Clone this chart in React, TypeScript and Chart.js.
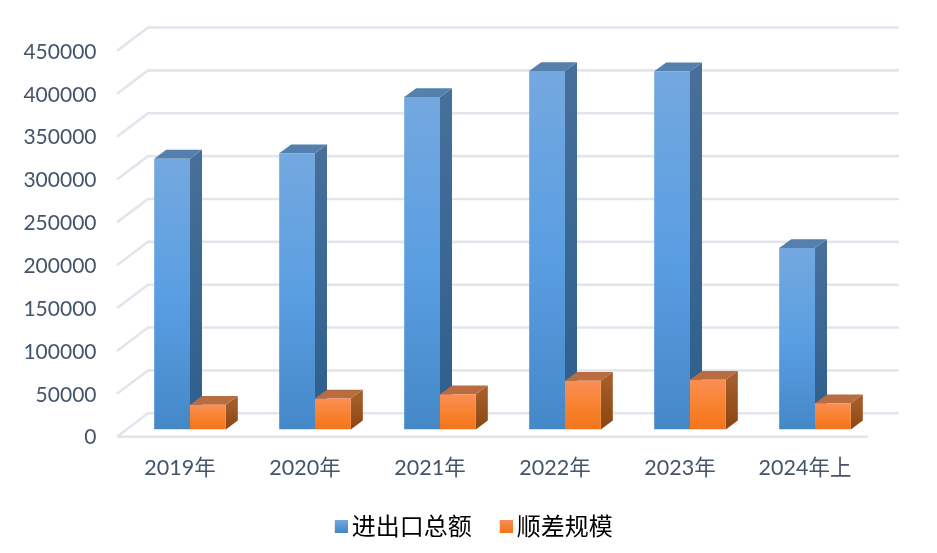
import React, { useEffect, useRef } from "react";
import { Chart, registerables } from "chart.js";

Chart.register(...registerables);

const categories = ["2019年", "2020年", "2021年", "2022年", "2023年", "2024年上"];
const totalTrade = [315800, 322000, 387600, 417900, 417700, 211600];
const surplus = [28800, 36100, 41000, 56700, 57900, 30500];
const yTicks = [0, 50000, 100000, 150000, 200000, 250000, 300000, 350000, 400000, 450000];
const legendLabels = ["进出口总额", "顺差规模"];

const TEXT = "#44546A";
const GRID = "#E2E5EC";
const FONT = 'Lato, "Noto Sans CJK SC", sans-serif';
const CJK = '"Noto Sans CJK SC", sans-serif';
const DEPTH_X = 12;
const DEPTH_Y = 8.8;

const blue = {
  front: ["#74A8DF", "#5A9FE2", "#4488C8"],
  top: "#5580AE",
  side: ["#476F9A", "#2D5E8D"],
};
const orange = {
  front: ["#FA8F55", "#F8822F", "#F3741A"],
  top: "#B86C40",
  side: ["#A45C28", "#8A4612"],
};

function swatch(stops: string[]) {
  const c = document.createElement("canvas");
  c.width = 17;
  c.height = 13;
  const g = c.getContext("2d")!;
  const gr = g.createLinearGradient(0, 0, 0, 13);
  gr.addColorStop(0, stops[0]);
  gr.addColorStop(1, stops[2]);
  g.fillStyle = gr;
  g.fillRect(4, 0, 13, 13);
  return c;
}

function frontFill(palette: typeof blue) {
  return (ctx: any) => {
    const chart = ctx.chart;
    const area = chart.chartArea;
    if (!area || ctx.raw === undefined) return palette.front[1];
    const y = chart.scales.y;
    const gr = chart.ctx.createLinearGradient(0, y.getPixelForValue(ctx.raw), 0, y.getPixelForValue(0));
    gr.addColorStop(0, palette.front[0]);
    gr.addColorStop(0.5, palette.front[1]);
    gr.addColorStop(1, palette.front[2]);
    return gr;
  };
}

const wallPlugin = {
  id: "wall3d",
  afterLayout(chart: any) {
    const lg = chart.legend;
    lg.left += 37;
    lg.right += 37;
    const h = lg.bottom - lg.top;
    lg.top = 482;
    lg.bottom = 482 + h;
  },
  beforeDatasetsDraw(chart: any) {
    const { ctx, chartArea: a, scales } = chart;
    const y = scales.y;
    const fx = a.left - 10.5;
    const backX = fx + 31;
    const width = a.right - a.left + 1;
    ctx.save();
    ctx.strokeStyle = GRID;
    ctx.lineWidth = 2.6;
    yTicks.forEach((v) => {
      const py = y.getPixelForValue(v);
      const front = py + 7.3;
      const back = front - 23.4;
      ctx.beginPath();
      ctx.moveTo(fx, front);
      ctx.lineTo(backX, back);
      ctx.lineTo(backX + width, back);
      ctx.stroke();
    });
    const floor = y.getPixelForValue(0) + 7.3;
    ctx.beginPath();
    ctx.moveTo(fx, floor);
    ctx.lineTo(fx + width, floor);
    ctx.stroke();

    const palettes = [blue, orange];
    [0, 1].forEach((d) => {
      const p = palettes[d];
      chart.getDatasetMeta(d).data.forEach((bar: any) => {
        const l = bar.x - bar.width / 2;
        const r = bar.x + bar.width / 2;
        const t = bar.y;
        const b = bar.base;
        const gr = ctx.createLinearGradient(0, t, 0, b);
        gr.addColorStop(0, p.side[0]);
        gr.addColorStop(1, p.side[1]);
        ctx.fillStyle = gr;
        ctx.beginPath();
        ctx.moveTo(r, t);
        ctx.lineTo(r + DEPTH_X, t - DEPTH_Y);
        ctx.lineTo(r + DEPTH_X, b - DEPTH_Y);
        ctx.lineTo(r, b);
        ctx.closePath();
        ctx.fill();
        ctx.fillStyle = p.top;
        ctx.beginPath();
        ctx.moveTo(l, t);
        ctx.lineTo(l + DEPTH_X, t - DEPTH_Y);
        ctx.lineTo(r + DEPTH_X, t - DEPTH_Y);
        ctx.lineTo(r, t);
        ctx.closePath();
        ctx.fill();
      });
    });
    ctx.restore();
  },
};

export default function App() {
  const ref = useRef<HTMLCanvasElement>(null);
  useEffect(() => {
    const icons = [swatch(blue.front), swatch(orange.front)];
    const chart = new Chart(ref.current!, {
      type: "bar",
      plugins: [wallPlugin],
      data: {
        labels: categories,
        datasets: [
          { label: legendLabels[0], data: totalTrade, backgroundColor: frontFill(blue), barPercentage: 1, categoryPercentage: 0.573 },
          { label: legendLabels[1], data: surplus, backgroundColor: frontFill(orange), barPercentage: 1, categoryPercentage: 0.573 },
        ],
      },
      options: {
        responsive: false,
        animation: false,
        layout: { padding: { top: 42.5, right: 59.5, bottom: -6.4, left: 0 } },
        scales: {
          x: {
            grid: { display: false, drawTicks: false },
            border: { display: false },
            ticks: { color: TEXT, font: { family: FONT, size: 21.5 }, labelOffset: -10, padding: 26, maxRotation: 0 },
            afterFit(s: any) {
              s.height = 64;
            },
          },
          y: {
            min: 0,
            max: 450000,
            grid: { display: false, drawTicks: false },
            border: { display: false },
            ticks: {
              color: TEXT,
              font: { family: FONT, size: 21 },
              stepSize: 50000,
              labelOffset: 8.3,
              padding: 31,
              callback: (v: any) => String(v),
            },
            afterFit(s: any) {
              s.width = 127.5;
            },
          },
        },
        plugins: {
          tooltip: { enabled: false },
          title: { display: false },
          legend: {
            position: "bottom",
            labels: {
              color: TEXT,
              font: { family: CJK, size: 24 },
              usePointStyle: true,
              pointStyleWidth: 1,
              padding: 32,
              generateLabels: () =>
                legendLabels.map((text, i) => ({
                  text,
                  pointStyle: icons[i],
                  fillStyle: "transparent",
                  strokeStyle: "transparent",
                  lineWidth: 0,
                  datasetIndex: i,
                })),
            },
          },
        },
      },
    } as any);
    return () => chart.destroy();
  }, []);
  return (
    <div style={{ position: "absolute", left: 0, top: 0, width: 937, height: 553 }}>
      <canvas ref={ref} width={937} height={553} style={{ display: "block" }} />
    </div>
  );
}
